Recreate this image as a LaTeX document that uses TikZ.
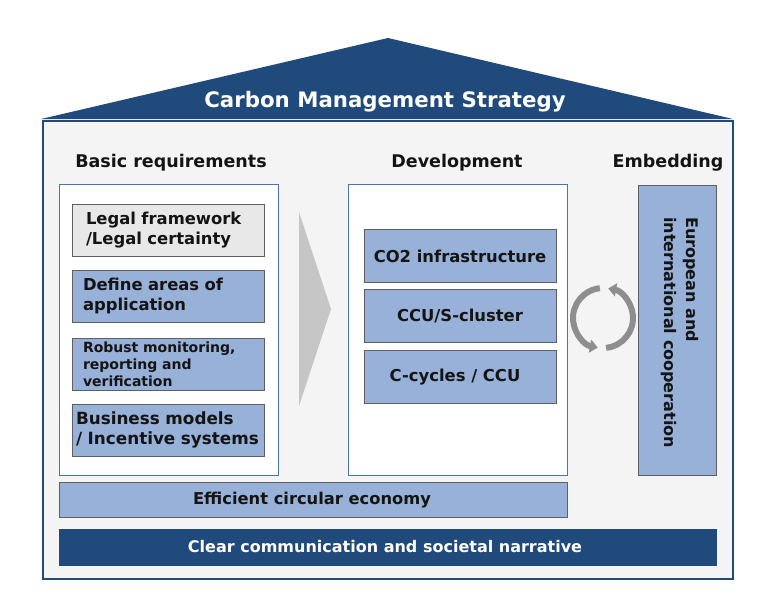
\documentclass[tikz,border=0pt]{standalone}
\usepackage{fontspec}
\setmainfont{DejaVu Sans}
\usetikzlibrary{arrows.meta}
\definecolor{navy}{HTML}{214A7C}
\definecolor{lblue}{HTML}{97B1D9}
\definecolor{bodyg}{HTML}{F4F4F4}
\definecolor{edgeg}{HTML}{5F5F5F}
\definecolor{wedge}{HTML}{4A72AE}
\definecolor{txt}{HTML}{141414}
\definecolor{arrg}{HTML}{C6C6C6}
\definecolor{cycg}{HTML}{8E8E8E}
\newcommand{\fs}[2]{\fontsize{#1}{#2}\selectfont\bfseries}
\tikzset{
  card/.style={draw=edgeg, line width=0.9pt, fill=lblue, minimum width=192, minimum height=52, inner sep=0, text=txt, align=left, font=\fs{16.4}{19.5}},
  panel/.style={draw=wedge, line width=0.9pt, fill=white, minimum width=219, minimum height=291, inner sep=0, anchor=north west},
  head/.style={text=txt, inner sep=0, font=\fs{17.5}{21}},
  cyc/.style={line width=6pt, cycg, -{Triangle[width=13pt,length=8pt]}}
}
\begin{document}
\begin{tikzpicture}[x=1pt,y=-1pt]
\useasboundingbox (0,0) rectangle (768,590);
\fill[white] (0,0) rectangle (768,590);
% body and roof
\node[draw=navy, line width=2pt, fill=bodyg, minimum width=690, minimum height=458, inner sep=0, anchor=north west] (body) at (42,120) {};
\fill[navy] (41,119) -- (388,38) -- (733,119) -- cycle;
\node[text=white, inner sep=0, font=\fs{21.3}{25}] (title) at (385,102) {Carbon Management Strategy};
% headings
\node[head] (hbasic) at (171,163) {Basic requirements};
\node[head] (hdev) at (457,163) {Development};
\node[head] (hemb) at (668,163) {Embedding};
% left panel
\node[panel] (left) at (59,184) {};
\node[card, fill=bodyg!95!black, text width=164] (legal) at (168,230) {Legal framework\\/Legal certainty};
\node[card, text width=170] (define) at (168,296) {Define areas of\\application};
\node[card, text width=170, font=\fs{14}{17}] (robust) at (168,364) {Robust monitoring,\\reporting and\\verification};
\node[card, text width=184, font=\fs{16.8}{19.5}] (business) at (168,430) {Business models\\/ Incentive systems};
% grey arrow
\fill[arrg] (299,212) -- (331,309) -- (299,406) -- cycle;
% middle panel
\node[panel] (mid) at (348,184) {};
\node[card, minimum height=53, align=center] (co2) at (460,256) {CO2 infrastructure};
\node[card, minimum height=53, align=center] (ccus) at (460,316) {CCU/S-cluster};
\node[card, minimum height=53] (ccycle) at (460,377) {};
\node[text=txt, inner sep=0, font=\fs{16.4}{19.5}] (ccycletxt) at (455,377) {C-cycles / CCU};
% embedding
\node[card, minimum width=78, minimum height=290, anchor=north west] (emb) at (638,185) {};
\node[rotate=-90, anchor=west, align=left, inner sep=0, text=txt, font=\fs{16}{22}] (embtxt) at (680,217) {European and\\international cooperation};
% cycle arrows
\coordinate (cc) at (603,318);
\draw[cyc] ([shift={(264:30)}]cc) arc[start angle=264, end angle=100, radius=30];
\draw[cyc] ([shift={(84:30)}]cc) arc[start angle=84, end angle=-80, radius=30];
% bottom bars
\node[card, minimum width=508, minimum height=35, anchor=north west] (circ) at (59,482) {};
\node[text=txt, inner sep=0, font=\fs{16.3}{19}] (circtxt) at (312,500) {Efficient circular economy};
\node[fill=navy, draw=navy, minimum width=657, minimum height=36, inner sep=0, anchor=north west] (comm) at (59,529) {};
\node[text=white, inner sep=0, font=\fs{16}{19}] (commtxt) at (385,547) {Clear communication and societal narrative};
\end{tikzpicture}
\end{document}
